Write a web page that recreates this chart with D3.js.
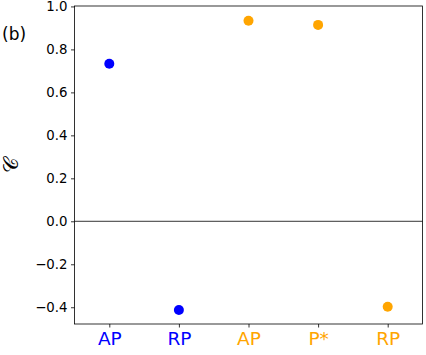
<!DOCTYPE html>
<html><head><meta charset="utf-8">
<script src="https://cdn.jsdelivr.net/npm/d3@7"></script>
<style>body{margin:0;background:#fff}svg{display:block}text{font-family:"DejaVu Sans",sans-serif}</style>
</head><body>
<script>
const categories = ["AP", "RP", "AP", "P*", "RP"];
const values = [0.733, -0.413, 0.933, 0.914, -0.398];
const colors = ["#0000ff", "#0000ff", "#ffa500", "#ffa500", "#ffa500"];
const yTicks = [-0.4, -0.2, 0.0, 0.2, 0.4, 0.6, 0.8, 1.0];

const W = 426, H = 355;
const m = {left: 74.5, right: 3.5, top: 6, bottom: 31};
const svg = d3.select("body").append("svg").attr("width", W).attr("height", H);

const x = d3.scaleLinear().domain([-0.5, 4.5]).range([m.left, W - m.right]);
const y = d3.scaleLinear().domain([-0.478, 1.002]).range([H - m.bottom, m.top]);

// zero line
svg.append("line").attr("x1", x(-0.5)).attr("x2", x(4.5)).attr("y1", y(0)).attr("y2", y(0))
  .attr("stroke", "#000").attr("stroke-width", 0.8);

// points
svg.selectAll("circle.pt").data(values).join("circle").attr("class", "pt")
  .attr("cx", (d, i) => x(i)).attr("cy", d => y(d)).attr("r", 5)
  .attr("fill", (d, i) => colors[i]);

// axes
const yAxis = svg.append("g").attr("transform", `translate(${m.left},0)`)
  .call(d3.axisLeft(y).tickValues(yTicks).tickFormat(d => d3.format(".1f")(d).replace("-", "\u2212")).tickSize(3.5).tickPadding(3.5));
yAxis.selectAll("text").attr("font-size", 13.3).attr("fill", "#000").attr("font-family", "DejaVu Sans");
yAxis.select(".domain").remove();

const xAxis = svg.append("g").attr("transform", `translate(0,${H - m.bottom})`)
  .call(d3.axisBottom(x).tickValues(d3.range(categories.length)).tickFormat(i => categories[i]).tickSize(3.5).tickPadding(4));
xAxis.selectAll("text").attr("font-size", 18.5).attr("fill", (d, i) => colors[i]).attr("dy", "0.75em");
xAxis.select(".domain").remove();

svg.selectAll(".tick line").attr("stroke", "#000").attr("stroke-width", 0.8);

// frame
svg.append("rect").attr("x", m.left).attr("y", m.top).attr("width", W - m.left - m.right).attr("height", H - m.top - m.bottom)
  .attr("fill", "none").attr("stroke", "#000").attr("stroke-width", 0.8);

// y label
svg.append("text").attr("transform", `translate(18,165) rotate(-90)`).attr("text-anchor", "middle")
  .attr("font-size", 21).attr("font-family", "DejaVu Sans").text("\u{1D49E}");

// panel label
svg.append("text").attr("x", 2).attr("y", 40).attr("font-size", 17).attr("fill", "#000").text("(b)");
</script>
</body></html>
